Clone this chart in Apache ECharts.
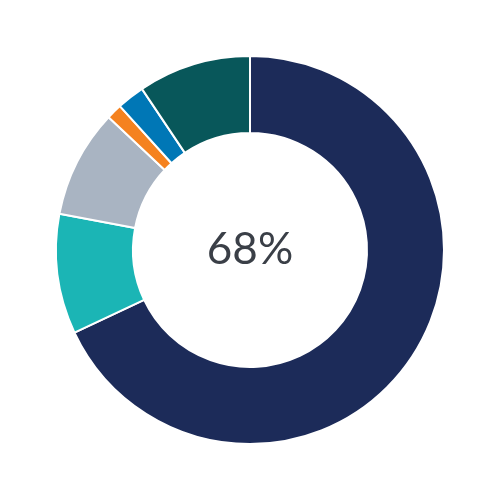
<!DOCTYPE html>
<html><head><meta charset="utf-8">
<script src="https://cdn.jsdelivr.net/npm/echarts@6/dist/echarts.min.js"></script>
<style>html,body{margin:0;padding:0;background:#fff}#c{width:500px;height:500px}</style>
</head><body><div id="c"></div>
<script>
const categories = ["A","B","C","D","E","F"];
const values = [68, 10, 9, 1.3, 2.3, 9.4];
const colors = ["#1c2b59","#1bb5b5","#a9b4c2","#f5821f","#0077b6","#08575a"];
const centerLabel = "68%";
const chart = echarts.init(document.getElementById('c'));
chart.setOption({
  animation:false,
  title:{text:centerLabel,left:'center',top:'center',textStyle:{fontFamily:'Lato',fontWeight:'normal',fontSize:44,color:'#3a3f47'}},
  series:[{type:'pie',radius:[117,194],center:['50%','50%'],startAngle:90,clockwise:true,
    label:{show:false},labelLine:{show:false},
    itemStyle:{borderColor:'#fff',borderWidth:2},
    data:categories.map((c,i)=>({name:c,value:values[i],itemStyle:{color:colors[i]}}))}]
});
</script></body></html>
